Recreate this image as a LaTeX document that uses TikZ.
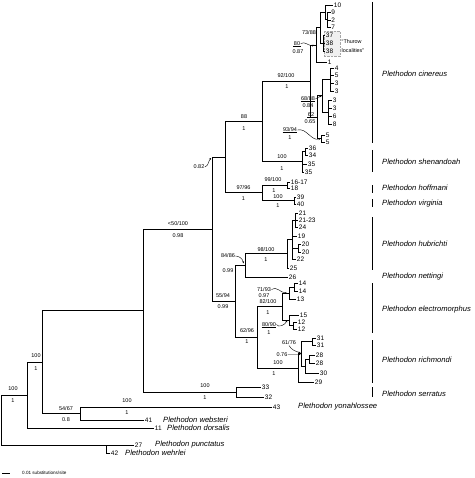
\documentclass[tikz,border=0pt]{standalone}
\usepackage{fontspec}
\setmainfont{Liberation Sans}
\usetikzlibrary{arrows.meta}
\begin{document}
\begin{tikzpicture}[x=1pt,y=-1pt,
  br/.style={line width=0.65pt},
  tip/.style={anchor=west,font=\fontsize{6.5}{7}\selectfont,inner sep=0.7pt},
  spn/.style={anchor=west,font=\fontsize{7.6}{9}\selectfont\itshape,inner sep=0pt},
  bsv/.style={font=\fontsize{5.5}{6}\selectfont,inner sep=0.3pt},
  arr/.style={-{Stealth[length=2.2pt,width=1.8pt]},line width=0.4pt},
  bar/.style={line width=0.6pt},
  ul/.style={line width=0.35pt}]
\useasboundingbox (0,0) rectangle (474,478);
% ---- internal nodes ----
\coordinate (R) at (1.5,420);
\coordinate (N1) at (27,395);
\coordinate (PW) at (106,445);
\coordinate (N2) at (42,362);
\coordinate (N3) at (80,413.5);
\coordinate (P) at (143,310.6);
\coordinate (SR) at (236,392);
\coordinate (Q) at (212,229.2);
\coordinate (T) at (225,157);
\coordinate (S) at (235,301.3);
\coordinate (U) at (262,121.4);
\coordinate (V) at (262,192.75);
\coordinate (C) at (310,81);
\coordinate (C1) at (316,44.9);
\coordinate (C2) at (320,27.75);
\coordinate (C3) at (325,12.25);
\coordinate (C4) at (327.5,19.5);
\coordinate (C5) at (323,43);
\coordinate (C6) at (317,117.1);
\coordinate (C7) at (322,95.75);
\coordinate (C8) at (321,138.5);
\coordinate (C9) at (330,79.5);
\coordinate (C10) at (328,112);
\coordinate (Sh) at (302,161.75);
\coordinate (Sh1) at (305,151.5);
\coordinate (Hf) at (287,185);
\coordinate (Vg) at (294,200.5);
\coordinate (H0) at (245,265.4);
\coordinate (H1) at (287,253.75);
\coordinate (Hh3) at (292,239.5);
\coordinate (Hh1) at (295,220);
\coordinate (Hh2) at (298,248);
\coordinate (ER) at (257,337.25);
\coordinate (E0) at (282,306.6);
\coordinate (A) at (289,293);
\coordinate (A1) at (294,287);
\coordinate (B) at (289,320.25);
\coordinate (B1) at (293,325.5);
\coordinate (RR) at (298,367.9);
\coordinate (R4) at (301,353.75);
\coordinate (R1) at (312,341.5);
\coordinate (R3) at (305,366);
\coordinate (R2) at (309,359);
% ---- tips ----
\coordinate (t27) at (134,445);
\coordinate (t42) at (110,453);
\coordinate (t11) at (154,428);
\coordinate (t43) at (272,407);
\coordinate (t41) at (144,420);
\coordinate (t33) at (261,387);
\coordinate (t32) at (264,397);
\coordinate (t10) at (333,5);
\coordinate (t9) at (330.5,12);
\coordinate (t2) at (330.5,20);
\coordinate (t7) at (330.5,27);
\coordinate (t37) at (325,35);
\coordinate (t38a) at (325,43);
\coordinate (t38b) at (325,51);
\coordinate (t1) at (327,62);
\coordinate (t4) at (334,68);
\coordinate (t5) at (334,75);
\coordinate (t3a) at (334,83);
\coordinate (t3b) at (334,91);
\coordinate (t3c) at (332,100);
\coordinate (t3d) at (332,108);
\coordinate (t6) at (332,116);
\coordinate (t8) at (332,124);
\coordinate (t5a) at (325,135);
\coordinate (t5b) at (325,142);
\coordinate (t36) at (308,148);
\coordinate (t34) at (308,155);
\coordinate (t35a) at (307,164);
\coordinate (t35b) at (304,172);
\coordinate (t1617) at (290,182);
\coordinate (t18) at (290,188);
\coordinate (t39) at (296,197);
\coordinate (t40) at (296,204);
\coordinate (t21) at (298,213);
\coordinate (t2123) at (298,220);
\coordinate (t24) at (298,227);
\coordinate (t19) at (297,236);
\coordinate (t20a) at (301,244);
\coordinate (t20b) at (301,252);
\coordinate (t22) at (296,259);
\coordinate (t25) at (289,268);
\coordinate (t26) at (288,277);
\coordinate (t14a) at (298,283);
\coordinate (t14b) at (298,291);
\coordinate (t13) at (296,299);
\coordinate (t15) at (299,315);
\coordinate (t12a) at (297,322);
\coordinate (t12b) at (297,329);
\coordinate (t31a) at (316,338);
\coordinate (t31b) at (316,345);
\coordinate (t28a) at (315,355);
\coordinate (t28b) at (315,363);
\coordinate (t30) at (319,373);
\coordinate (t29) at (314,382);
% ---- Thurow box ----
\draw[densely dotted,draw=gray!70,fill=gray!12,line width=0.4pt] (324,31) rectangle (340,56.5);
% ---- branches ----
\foreach \a/\b in {R/N1,R/PW,PW/t27,PW/t42,N1/N2,N1/t11,N2/P,N2/N3,N3/t43,N3/t41,
  P/Q,P/SR,SR/t33,SR/t32,Q/T,Q/S,T/U,T/V,U/C,U/Sh,C/C1,C/C6,C1/C2,C1/t1,C2/C3,C2/C5,
  C3/t10,C3/C4,C4/t9,C4/t2,C4/t7,C5/t37,C5/t38a,C5/t38b,C6/C7,C6/C8,C7/C9,C7/C10,
  C9/t4,C9/t5,C9/t3a,C9/t3b,C10/t3c,C10/t3d,C10/t6,C10/t8,C8/t5a,C8/t5b,
  Sh/Sh1,Sh/t35a,Sh/t35b,Sh1/t36,Sh1/t34,V/Hf,V/Vg,Hf/t1617,Hf/t18,Vg/t39,Vg/t40,
  S/H0,S/ER,H0/H1,H0/t26,H1/Hh3,H1/t25,Hh3/Hh1,Hh3/t19,Hh3/Hh2,Hh3/t22,
  Hh1/t21,Hh1/t2123,Hh1/t24,Hh2/t20a,Hh2/t20b,ER/E0,ER/RR,E0/A,E0/B,A/A1,A/t13,
  A1/t14a,A1/t14b,B/t15,B/B1,B1/t12a,B1/t12b,RR/R4,RR/t29,R4/R1,R4/R3,R1/t31a,R1/t31b,
  R3/R2,R3/t30,R2/t28a,R2/t28b}
  \draw[br] (\a) |- (\b);
% ---- tip labels ----
\foreach \c/\t in {t27/27,t42/42,t11/11,t43/43,t41/41,t33/33,t32/32,t10/10,t9/9,t2/2,t7/7,
  t37/37,t38a/38,t38b/38,t1/1,t4/4,t5/5,t3a/3,t3b/3,t3c/3,t3d/3,t6/6,t8/8,t5a/5,t5b/5,
  t36/36,t34/34,t35a/35,t35b/35,t1617/16-17,t18/18,t39/39,t40/40,t21/21,t2123/21-23,t24/24,
  t19/19,t20a/20,t20b/20,t22/22,t25/25,t26/26,t14a/14,t14b/14,t13/13,t15/15,t12a/12,t12b/12,
  t31a/31,t31b/31,t28a/28,t28b/28,t30/30,t29/29}
  \node[tip] (l\c) at (\c) {\t};
% ---- species next to tips ----
\node[spn] (sp27) at (155,445) {Plethodon punctatus};
\node[spn] (sp42) at (125,453) {Plethodon wehrlei};
\node[spn] (sp11) at (167,428) {Plethodon dorsalis};
\node[spn] (sp41) at (163,420) {Plethodon websteri};
\node[spn] (sp43) at (298,407) {Plethodon yonahlossee};
\node[anchor=west,font=\fontsize{5.4}{6}\selectfont,inner sep=0pt] (th1) at (341.5,42) {“Thurow};
\node[anchor=west,font=\fontsize{5.4}{6}\selectfont,inner sep=0pt] (th2) at (341.5,51) {localities”};
% ---- right-hand bars and species ----
\draw[bar] (372,2) -- (372,143);
\draw[bar] (372,150) -- (372,172);
\draw[bar] (372,185) -- (372,193);
\draw[bar] (372,199) -- (372,207);
\draw[bar] (372,217) -- (372,270);
\draw[bar] (372,283) -- (372,333);
\draw[bar] (372,340) -- (372,383);
\draw[bar] (372,387) -- (372,397);
\node[spn] (g1) at (382,74) {Plethodon cinereus};
\node[spn] (g2) at (382,162) {Plethodon shenandoah};
\node[spn] (g3) at (382,188) {Plethodon hoffmani};
\node[spn] (g4) at (382,204) {Plethodon virginia};
\node[spn] (g5) at (382,244) {Plethodon hubrichti};
\node[spn] (g6) at (382,277) {Plethodon nettingi};
\node[spn] (g7) at (382,310) {Plethodon electromorphus};
\node[spn] (g8) at (382,360) {Plethodon richmondi};
\node[spn] (g9) at (382,394) {Plethodon serratus};
% ---- support values ----
\node[bsv] (s1) at (13,389) {100};   \node[bsv] (s1b) at (13,401) {1};
\node[bsv] (s2) at (36,356) {100};   \node[bsv] (s2b) at (36,369) {1};
\node[bsv] (s3) at (66,408.5) {54/67}; \node[bsv] (s3b) at (66,420) {0.8};
\node[bsv] (s4) at (127,401) {100};  \node[bsv] (s4b) at (127,413) {1};
\node[bsv] (s5) at (205,386) {100};  \node[bsv] (s5b) at (205,398) {1};
\node[bsv] (s6) at (178,223.5) {<50/100}; \node[bsv] (s6b) at (178,235.5) {0.98};
\node[bsv] (s7) at (199,167) {0.82};
\node[bsv] (s8) at (244,117) {88};   \node[bsv] (s8b) at (244,128.5) {1};
\node[bsv] (s9) at (286,76) {92/100}; \node[bsv] (s9b) at (287,87) {1};
\node[bsv] (s10) at (297,43.5) {80}; \node[bsv] (s10b) at (298,51.5) {0.87};
\node[bsv] (s11) at (309,33) {73/88};
\node[bsv] (s12) at (308,99) {68/88}; \node[bsv] (s12b) at (308,106) {0.84};
\node[bsv] (s13) at (311,114.5) {62}; \node[bsv] (s13b) at (310,122) {0.65};
\node[bsv] (s14) at (290,130) {93/94}; \node[bsv] (s14b) at (290,137.5) {1};
\node[bsv] (s15) at (282,156.5) {100}; \node[bsv] (s15b) at (282,168.5) {1};
\node[bsv] (s16) at (243.5,188) {97/96}; \node[bsv] (s16b) at (243.5,198.5) {1};
\node[bsv] (s17) at (273,180) {99/100}; \node[bsv] (s17b) at (274,190.5) {1};
\node[bsv] (s18) at (278,196.5) {100}; \node[bsv] (s18b) at (278,206) {1};
\node[bsv] (s19) at (228,256) {84/86}; \node[bsv] (s19b) at (228,270.5) {0.99};
\node[bsv] (s20) at (266,249.5) {98/100}; \node[bsv] (s20b) at (266,260) {1};
\node[bsv] (s21) at (223,296) {55/94}; \node[bsv] (s21b) at (223,307) {0.99};
\node[bsv] (s22) at (247,331) {62/96}; \node[bsv] (s22b) at (247,342) {1};
\node[bsv] (s23) at (264,289.5) {71/93}; \node[bsv] (s23b) at (264,296) {0.97};
\node[bsv] (s24) at (268,302) {82/100}; \node[bsv] (s24b) at (268,312.5) {1};
\node[bsv] (s25) at (269,324.5) {80/90}; \node[bsv] (s25b) at (269,333) {1};
\node[bsv] (s26) at (289,343) {61/76};
\node[bsv] (s27) at (282,354.5) {0.76};
\node[bsv] (s28) at (278,363) {100}; \node[bsv] (s28b) at (274,374) {1};
% underlines (fraction bars)
\foreach \n in {s10,s12,s13,s14,s25}
  \draw[ul] (\n.south west) -- (\n.south east);
% ---- arrows ----
\draw[arr] (s7.east) to[out=20,in=225] ([xshift=-0.8pt,yshift=-1pt]Q |- T);
\draw[arr] (s10.east) to[out=30,in=200] ([xshift=-2pt]C1);
\draw[arr] (s12.east) to[out=20,in=160] ([xshift=-0.5pt,yshift=-1.2pt]C7);
\draw[arr] (s14.east) to[out=15,in=200] ([xshift=-0.5pt]C8);
\draw[arr] (s19.east) to[out=0,in=100] ([xshift=-1.5pt,yshift=2pt]H0);
\draw[arr] (s23.east) to[out=40,in=180] ([xshift=-2pt]A);
\draw[arr] (s25.east) to[out=-60,in=250] ([xshift=-2pt]B);
\draw[arr] (s26.south) to[out=-60,in=160] ([xshift=-0.5pt,yshift=0.8pt]R4);
\draw[arr] (s27.east) to[out=0,in=180] ([xshift=-0.5pt,yshift=-0.8pt]R4);
% ---- scale bar ----
\coordinate (sbA) at (2,473);
\coordinate (sbB) at (10,473);
\draw[br] (sbA) -- (sbB);
\node[anchor=west,font=\fontsize{4.6}{5}\selectfont,inner sep=0pt] (sbt) at (22,473) {0.01 substitutions/site};
\end{tikzpicture}
\end{document}
